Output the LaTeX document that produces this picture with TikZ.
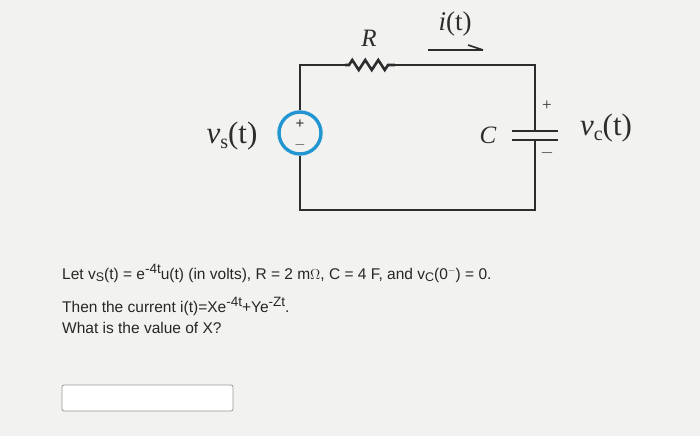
\documentclass[tikz,border=0pt]{standalone}
\usepackage{fontspec}
\setmainfont{Liberation Sans}
\newfontfamily\serifx{Liberation Serif}
\usetikzlibrary{decorations.pathmorphing,arrows.meta}
\definecolor{bg}{RGB}{242,242,240}
\definecolor{wire}{RGB}{45,45,45}
\definecolor{srcblue}{RGB}{35,150,210}
\tikzset{
  w/.style={draw=wire,line width=2.6pt},
  lab/.style={font=\serifx\fontsize{27}{27}\selectfont,text=wire,inner sep=0pt},
  big/.style={font=\serifx\fontsize{31}{31}\selectfont,text=wire,inner sep=0pt},
  txt/.style={font=\fontsize{15.5}{17}\selectfont,text=black!85,anchor=west,inner sep=0pt}
}
\begin{document}
\begin{tikzpicture}[x=1pt,y=-1pt]
\fill[bg] (0,0) rectangle (700,436);
\useasboundingbox (0,0) rectangle (700,436);
\coordinate (tl) at (300,65);
\coordinate (tr) at (535,65);
\coordinate (bl) at (300,210);
\coordinate (br) at (535,210);
\coordinate (r1) at (345,65);
\coordinate (r2) at (395,65);
\node[circle,draw=srcblue,line width=3.4pt,minimum size=42pt,inner sep=0pt] (src) at (300,133) {};
\node[font=\fontsize{15}{15}\selectfont,text=wire,inner sep=0pt] (pl) at (300,124) {+};
\node[font=\fontsize{15}{15}\selectfont,text=wire,inner sep=0pt] (mn) at (300,145) {$-$};
\coordinate (c1) at (535,131);
\coordinate (c2) at (535,140);
\draw[w] (src.north) -- (tl) -- (r1);
\draw[w,line join=miter,decoration={zigzag,segment length=13pt,amplitude=5pt,pre length=4pt,post length=4pt},decorate] (r1) -- (r2);
\draw[w] (r2) -- (tr) -- (c1);
\draw[w] (c2) -- (br) -- (bl) -- (src.south);
\draw[w] (512,131) -- (558,131);
\draw[w] (512,140) -- (558,140);
\node[lab,font=\serifx\itshape\fontsize{25}{25}\selectfont] (R) at (369,38) {R};
\node[lab] (it) at (455,24) {\itshape i\upshape(t)};
\draw[wire,line width=2.4pt] (428,50) -- (483,50);
\draw[wire,line width=1.6pt] (468,45) -- (483,50);
\node[lab,font=\serifx\itshape\fontsize{25}{25}\selectfont] (C) at (488,135) {C};
\node[lab,font=\serifx\fontsize{17}{17}\selectfont] (cp) at (547,106) {+};
\node[lab,font=\serifx\fontsize{17}{17}\selectfont] (cm) at (547,153) {$-$};
\node[big] (vs) at (232,136) {\itshape v\upshape\raisebox{-5pt}{\fontsize{20}{20}\selectfont s}(t)};
\node[big] (vc) at (606,128) {\itshape v\upshape\raisebox{-5pt}{\fontsize{20}{20}\selectfont c}(t)};
\node[txt] (l1) at (62,273) {Let v\raisebox{-2pt}{\fontsize{12.5}{12}\selectfont S}(t) = e\raisebox{6pt}{\fontsize{13.5}{13}\selectfont -4t}u(t) (in volts), R = 2 m$\Omega$, C = 4 F, and v\raisebox{-2pt}{\fontsize{12.5}{12}\selectfont C}(0\raisebox{6pt}{\fontsize{10}{10}\selectfont $-$}) = 0.};
\node[txt] (l2) at (62,306) {Then the current i(t)=Xe\raisebox{6pt}{\fontsize{13.5}{13}\selectfont -4t}+Ye\raisebox{6pt}{\fontsize{13.5}{13}\selectfont -Zt}.};
\node[txt] (l3) at (62,328) {What is the value of X?};
\node[draw=black!40,fill=white,rounded corners=2pt,line width=0.8pt,minimum width=171pt,minimum height=26pt,inner sep=0pt] (box) at (147.5,398) {};
\end{tikzpicture}
\end{document}
